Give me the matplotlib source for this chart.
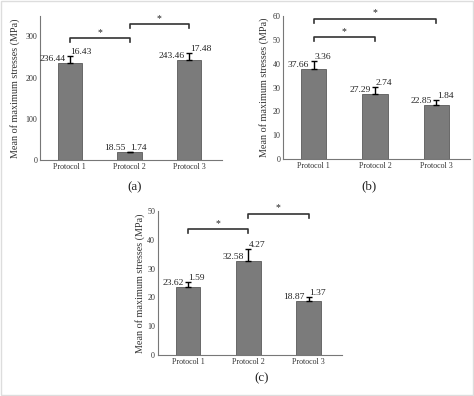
import matplotlib
matplotlib.use("Agg")
import matplotlib.pyplot as plt
from matplotlib.patches import Rectangle

plt.rcParams['font.family'] = ['Liberation Serif', 'DejaVu Serif']

categories = ["Protocol 1", "Protocol 2", "Protocol 3"]

means_a = [236.44, 18.55, 243.46]
sds_a = [16.43, 1.74, 17.48]
means_b = [37.66, 27.29, 22.85]
sds_b = [3.36, 2.74, 1.84]
means_c = [23.62, 32.58, 18.87]
sds_c = [1.59, 4.27, 1.37]

ylim_a, yticks_a = 350, [0, 100, 200, 300]
ylim_b, yticks_b = 60, [0, 10, 20, 30, 40, 50, 60]
ylim_c, yticks_c = 50, [0, 10, 20, 30, 40, 50]

# significance brackets: (from index, to index, height)
brackets_a = [(0, 1, 295), (1, 2, 329)]
brackets_b = [(0, 2, 58.7), (0, 1, 51)]
brackets_c = [(0, 1, 43.7), (1, 2, 49)]

panel_labels = ["(a)", "(b)", "(c)"]
ylabel = "Mean of maximum stresses (MPa)"

fig = plt.figure(figsize=(4.74, 3.96), dpi=100)
fig.patch.set_facecolor("white")

positions = [
    [0.0844, 0.596, 0.384, 0.364],
    [0.597, 0.598, 0.395, 0.362],
    [0.333, 0.1035, 0.388, 0.3635],
]
label_pos = [(0.285, 0.528), (0.778, 0.530), (0.552, 0.045)]
ylabel_x = [0.032, 0.558, 0.296]

datasets = [
    (means_a, sds_a, ylim_a, yticks_a, brackets_a),
    (means_b, sds_b, ylim_b, yticks_b, brackets_b),
    (means_c, sds_c, ylim_c, yticks_c, brackets_c),
]

bar_color = "#7b7b7b"
edge_color = "#5a5a5a"
spine_color = "#777777"

for i, (means, sds, ymax, yticks, brackets) in enumerate(datasets):
    ax = fig.add_axes(positions[i])
    x = [1, 2, 3]
    ax.bar(x, means, width=0.41, color=bar_color, edgecolor=edge_color, linewidth=0.6, zorder=2)
    ax.errorbar(x, means, yerr=[[0] * 3, sds], fmt="none", ecolor="black",
                elinewidth=1.0, capsize=2, capthick=1.0, zorder=3)
    for xi, m, s in zip(x, means, sds):
        ax.text(xi - 0.07, m, f"{m:.2f}", ha="right", va="bottom", fontsize=6.8, color="#222222")
        ax.text(xi + 0.01, m + s, f"{s:.2f}", ha="left", va="bottom", fontsize=6.8, color="#222222")
    drop = ymax * 0.025
    for a, b, h in brackets:
        ax.plot([x[a], x[a], x[b], x[b]], [h - drop, h, h, h - drop], color="#333333", lw=1.2,
                clip_on=False, zorder=4)
        ax.text((x[a] + x[b]) / 2, h + ymax * 0.01, "*", ha="center", va="bottom", fontsize=7,
                color="#222222")
    ax.set_xlim(0.5, 3.55)
    ax.set_ylim(0, ymax)
    ax.set_yticks(yticks)
    ax.set_xticks(x)
    ax.set_xticklabels(categories)
    ax.tick_params(axis="both", labelsize=5.8, length=0, pad=2, colors="#333333")
    for side in ["top", "right"]:
        ax.spines[side].set_visible(False)
    for side in ["left", "bottom"]:
        ax.spines[side].set_color(spine_color)
        ax.spines[side].set_linewidth(0.8)
    fig.text(ylabel_x[i], positions[i][1] + positions[i][3] / 2, ylabel, rotation=90,
             ha="center", va="center", fontsize=7.3, color="#333333")
    fig.text(label_pos[i][0], label_pos[i][1], panel_labels[i], ha="center", va="center",
             fontsize=9.3, color="#222222")

fig.add_artist(Rectangle((0.002, 0.002), 0.996, 0.996, transform=fig.transFigure,
                         fill=False, edgecolor="#dddddd", linewidth=1.0))

fig.savefig("out.png", dpi=100, facecolor="white")
